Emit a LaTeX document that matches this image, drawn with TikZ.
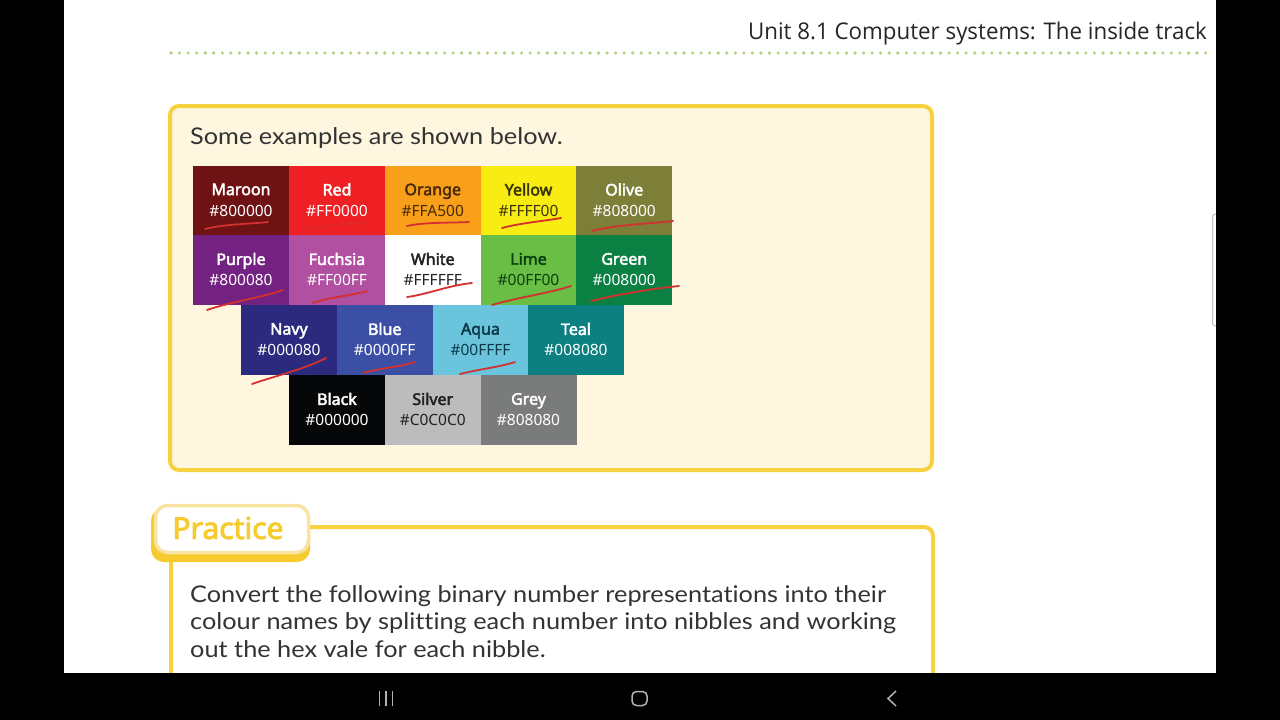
\documentclass[tikz,border=0pt]{standalone}
\usepackage{fontspec}
\setmainfont{Noto Sans}
\newfontfamily\boldface[FakeBold=2.8]{Noto Sans}
\newfontfamily\bodyfont[FakeStretch=1.10,Ligatures=NoCommon]{Lato}
\newfontfamily\headfont[FakeStretch=0.97]{Open Sans}
\definecolor{frame}{HTML}{F7D13F}
\definecolor{creamy}{HTML}{FEF6DF}
\definecolor{tabgold}{HTML}{F7CB2E}
\definecolor{tabedge}{HTML}{F8E3A0}
\definecolor{bodyink}{HTML}{333333}
\definecolor{penred}{HTML}{D3302F}
\definecolor{dotgreen}{HTML}{AFD67E}
\definecolor{cMaroon}{HTML}{6E1214}
\definecolor{cRed}{HTML}{EE2024}
\definecolor{cOrange}{HTML}{F9A01B}
\definecolor{cYellow}{HTML}{F8EC13}
\definecolor{cOlive}{HTML}{7D7F38}
\definecolor{cPurple}{HTML}{742281}
\definecolor{cFuchsia}{HTML}{B14FA0}
\definecolor{cLime}{HTML}{6ABD45}
\definecolor{cGreen}{HTML}{0B8043}
\definecolor{cNavy}{HTML}{2B2A7E}
\definecolor{cBlue}{HTML}{3B4FA5}
\definecolor{cAqua}{HTML}{6AC5DC}
\definecolor{cTeal}{HTML}{0C8080}
\definecolor{cBlack}{HTML}{050708}
\definecolor{cSilver}{HTML}{BCBCBC}
\definecolor{cGrey}{HTML}{7A7C7C}
\definecolor{tOrange}{HTML}{4A2A05}
\definecolor{tYellow}{HTML}{3A3505}
\definecolor{tLime}{HTML}{0A4010}
\definecolor{tAqua}{HTML}{0C3A4A}
\definecolor{tDark}{HTML}{222222}
\tikzset{
  x=1pt,y=-1pt,
  swatch/.style={minimum width=96pt,minimum height=70pt,inner sep=0pt,outer sep=0pt,align=center,font=\fontsize{16}{21}\selectfont},
  bodytext/.style={anchor=west,inner sep=0pt,text=bodyink,font=\bodyfont\fontsize{23}{27.5}\selectfont,align=left},
  pen/.style={draw=penred,line width=1.8pt,line cap=round},
  softkey/.style={draw=white!70!black,line width=1.5pt}
}
\newcommand{\cellbox}[7]{%
  \node[swatch,fill=#4,text=#5] (#1) at (#2-0.5,#3) {\raisebox{1.3pt}{\boldface #6}\\{\fontsize{15.5}{21}\selectfont\raisebox{1.3pt}{#7}}};}
\begin{document}
\begin{tikzpicture}
\useasboundingbox (0,0) rectangle (1280,720);
\fill[black] (0,0) rectangle (1280,720);
\fill[white] (64,0) rectangle (1216,673);
% header
\node[anchor=east,inner sep=0pt,text=black!85,font=\headfont\fontsize{23}{27}\selectfont] (head) at (1207,34) {Unit 8.1 Computer systems: The inside track};
\coordinate (dotsL) at (171,53);
\coordinate (dotsR) at (1207,53);
\draw[dotgreen,line width=3.6pt,line cap=round,dash pattern=on 0pt off 8.55pt] (dotsL) -- (dotsR);
% scrollbar tab
\draw[black!25,line width=1pt,rounded corners=3pt] (1216,214) -- (1212.5,214) -- (1212.5,326) -- (1216,326);
% main box
\node[draw=frame,fill=creamy,line width=4pt,rounded corners=9pt,minimum width=762pt,minimum height=364pt,inner sep=0pt] (mainbox) at (551,288) {};
\node[bodytext] (lead) at (190,138) {Some examples are shown below.};
% swatches
\cellbox{maroon}{241.5}{200.5}{cMaroon}{white}{Maroon}{\#800000}
\cellbox{red}{337.5}{200.5}{cRed}{white}{Red}{\#FF0000}
\cellbox{orange}{433.25}{200.5}{cOrange}{tOrange}{Orange}{\#FFA500}
\cellbox{yellow}{529}{200.5}{cYellow}{tYellow}{Yellow}{\#FFFF00}
\cellbox{olive}{624.75}{200.5}{cOlive}{white}{Olive}{\#808000}
\cellbox{purple}{241.5}{270}{cPurple}{white}{Purple}{\#800080}
\cellbox{fuchsia}{337.5}{270}{cFuchsia}{white}{Fuchsia}{\#FF00FF}
\cellbox{whitecell}{433.25}{270}{white}{tDark}{White}{\#FFFFFF}
\cellbox{lime}{529}{270}{cLime}{tLime}{Lime}{\#00FF00}
\cellbox{green}{624.75}{270}{cGreen}{white}{Green}{\#008000}
\cellbox{navy}{289.5}{340}{cNavy}{white}{Navy}{\#000080}
\cellbox{blue}{385.25}{340}{cBlue}{white}{Blue}{\#0000FF}
\cellbox{aqua}{481}{340}{cAqua}{tAqua}{Aqua}{\#00FFFF}
\cellbox{teal}{576.5}{340}{cTeal}{white}{Teal}{\#008080}
\cellbox{blackcell}{337.5}{410}{cBlack}{white}{Black}{\#000000}
\cellbox{silver}{433.25}{410}{cSilver}{tDark}{Silver}{\#C0C0C0}
\cellbox{grey}{529}{410}{cGrey}{white}{Grey}{\#808080}
% pen underlines
\draw[pen] (205,229) .. controls (225,224) and (250,224) .. (268,222);
\draw[pen,draw=penred!60!cRed] (307,230) .. controls (325,225) and (345,224) .. (365,222);
\draw[pen] (407,226) .. controls (425,222) and (450,223) .. (469,222);
\draw[pen] (502,228) .. controls (520,223) and (545,221) .. (561,218);
\draw[pen] (592,231) .. controls (615,225) and (645,224) .. (673,221);
\draw[pen] (207,310) .. controls (230,302) and (260,298) .. (283,290);
\draw[pen] (313,303) .. controls (330,297) and (350,296) .. (367,291);
\draw[pen] (407,297) .. controls (425,295) and (450,285) .. (472,283);
\draw[pen] (492,305) .. controls (515,298) and (550,293) .. (571,286);
\draw[pen] (591,301) .. controls (620,294) and (650,289) .. (679,286);
\draw[pen] (252,384) .. controls (275,376) and (305,369) .. (326,358);
\draw[pen] (363,373) .. controls (380,368) and (400,367) .. (415,362);
\draw[pen] (460,374) .. controls (480,369) and (500,367) .. (515,362);
% practice box, clipped at the bottom of the page
\begin{scope}
\clip (64,0) rectangle (1216,673);
\draw[frame,line width=4pt,rounded corners=9pt] (171,700) -- (171,527) -- (933,527) -- (933,700);
\end{scope}
\fill[tabgold,rounded corners=13pt] (151,508) rectangle (310,562);
\node[draw=tabedge,fill=white,line width=3.5pt,rounded corners=12pt,minimum width=153pt,minimum height=47pt,inner sep=0pt] (tab) at (232,529) {};
\node[inner sep=0pt,text=tabgold,font=\boldface\fontsize{30}{32}\selectfont] (tablabel) at (228,528) {Practice};
\node[bodytext] (task) at (190,621.5) {Convert the following binary number representations into their\\colour names by splitting each number into nibbles and working\\out the hex vale for each nibble.};
\fill[black] (64,673) rectangle (1216,720);
% navigation keys
\draw[softkey] (379.5,691) -- (379.5,706) (386,691) -- (386,706) (392.5,691) -- (392.5,706);
\draw[softkey,rounded corners=4.5pt] (632,691.5) rectangle (647,705.5);
\draw[softkey] (896,691) -- (888,698.5) -- (896,706);
\end{tikzpicture}
\end{document}
